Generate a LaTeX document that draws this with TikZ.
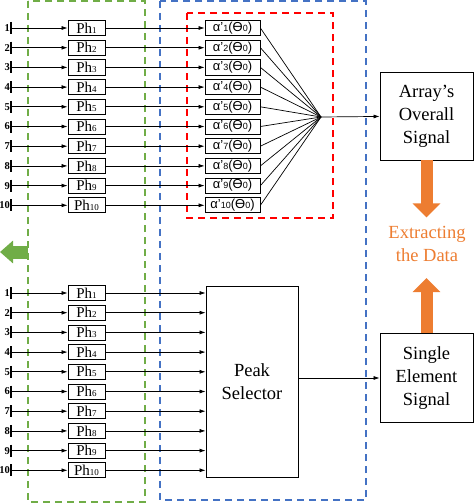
\documentclass[tikz,border=0pt]{standalone}
\usepackage{fontspec}
\setmainfont{Liberation Serif}
\newfontfamily\alphafont{Liberation Sans}
\usetikzlibrary{arrows.meta}
\definecolor{grn}{RGB}{112,173,71}
\definecolor{blu}{RGB}{68,114,196}
\definecolor{org}{RGB}{237,125,49}
\newcommand{\subsz}{\fontsize{9}{9}\selectfont}
\tikzset{
  phbox/.style={draw, line width=0.8pt, minimum width=37pt, minimum height=15pt, inner sep=0pt, font=\fontsize{15}{15}\selectfont},
  albox/.style={draw, line width=0.8pt, minimum width=55pt, minimum height=15pt, inner sep=0pt, font=\alphafont\fontsize{13}{13}\selectfont},
  bigbox/.style={draw, line width=0.8pt, minimum width=93pt, align=center, font=\fontsize{18.5}{23}\selectfont},
  wire/.style={line width=0.7pt},
  fat/.style={line width=12pt, -{Triangle[length=14pt,width=27pt]}}
}
\begin{document}
\begin{tikzpicture}[x=1pt, y=-1pt, >={Latex[length=6pt,width=4pt]}]
\useasboundingbox (0,0) rectangle (474,503);
% dashed groups
\draw[grn, line width=1.2pt, dash pattern=on 7pt off 5pt] (28,1) rectangle (145,502);
\draw[blu, line width=1.2pt, dash pattern=on 7pt off 5pt] (160,1) rectangle (366,500);
\draw[red, line width=1.2pt, dash pattern=on 7pt off 5pt] (187,13) rectangle (333,218);
% blocks
\coordinate (sum) at (321,117);
\node[bigbox, minimum height=88pt] (arr) at (426.5,116) {Array’s\\Overall\\Signal};
\node[bigbox, minimum height=89pt] (sel) at (426.5,378) {Single\\Element\\Signal};
\node[draw, line width=0.8pt, minimum width=92pt, minimum height=191pt, align=center, font=\fontsize{18.5}{23}\selectfont] (peak) at (252,381.5) {Peak\\Selector};
\node[org, align=center, font=\fontsize{18.5}{23}\selectfont] (ext) at (427,243.5) {Extracting\\the Data};
% upper rows
\foreach \i in {1,...,10}{
  \pgfmathsetmacro{\yy}{28+(\i-1)*19.7}
  \coordinate (ta\i) at (11,\yy);
  \node[anchor=east, inner sep=0.5pt, font=\bfseries\fontsize{10.5}{10.5}\selectfont] (na\i) at (10.5,\yy) {\i};
  \draw[line width=1.6pt] (11,\yy-6) -- (11,\yy+6);
  \node[phbox] (pa\i) at (86.5,\yy) {Ph{\subsz\i}};
  \node[albox] (al\i) at (232.5,\yy) {α’{\subsz\i}(ϴ{\subsz 0})};
  \draw[wire,->] (ta\i) -- (pa\i);
  \draw[wire,->] (pa\i) -- (al\i);
  \draw[wire] (al\i.east) -- (sum);
}
% lower rows
\foreach \i in {1,...,10}{
  \pgfmathsetmacro{\yy}{293+(\i-1)*19.7}
  \coordinate (tb\i) at (11,\yy);
  \node[anchor=east, inner sep=0.5pt, font=\bfseries\fontsize{10.5}{10.5}\selectfont] (nb\i) at (10.5,\yy) {\i};
  \draw[line width=1.6pt] (11,\yy-6) -- (11,\yy+6);
  \node[phbox] (pb\i) at (86.5,\yy) {Ph{\subsz\i}};
  \draw[wire,->] (tb\i) -- (pb\i);
  \draw[wire,->] (pb\i) -- (pb\i -| peak.west);
}
\draw[wire,->] (sum) -- (arr);
\draw[wire,->] (peak.east |- sel) -- (sel);
% orange and green arrows
\draw[org, fat] (arr.south) -- ++(0,57);
\draw[org, fat] (sel.north) -- ++(0,-55);
\coordinate (gout) at (0,252);
\draw[grn, line width=13pt, -{Triangle[length=13pt,width=22pt]}] (28,252) -- (gout);
\end{tikzpicture}
\end{document}
